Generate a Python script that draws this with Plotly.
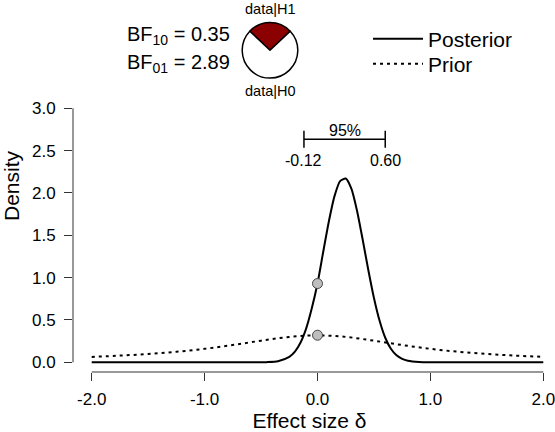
import plotly.graph_objects as go

# ---- data ----
post_x = [-2.0, -1.0, -0.6, -0.45, -0.35, -0.25, -0.2, -0.15, -0.1, -0.05, 0.0, 0.05, 0.1,
          0.15, 0.2, 0.25, 0.3, 0.35, 0.4, 0.45, 0.5, 0.55, 0.6, 0.65, 0.7, 0.75, 0.8,
          0.9, 1.0, 1.4, 2.0]
post_y = [0.0, 0.0, 0.0, 0.002, 0.012, 0.063, 0.125, 0.233, 0.40, 0.64, 0.93, 1.30, 1.66,
          1.96, 2.14, 2.17, 2.05, 1.79, 1.45, 1.09, 0.76, 0.49, 0.29, 0.16, 0.083, 0.04, 0.018,
          0.003, 0.0, 0.0, 0.0]
prior_x = [-2.0, -1.75, -1.5, -1.25, -1.0, -0.75, -0.5, -0.25, 0.0, 0.25, 0.5, 0.75, 1.0,
           1.25, 1.5, 1.75, 2.0]
prior_y = [0.064, 0.079, 0.098, 0.124, 0.159, 0.204, 0.255, 0.300, 0.318, 0.300, 0.255,
           0.204, 0.159, 0.124, 0.098, 0.079, 0.064]
point_x = [0.0, 0.0]
point_y = [0.93, 0.32]          # posterior and prior density at delta = 0
ci = [-0.12, 0.60]
ci_label = "95%"
bf10 = 0.35
bf01 = 2.89
x_ticks = [-2.0, -1.0, 0.0, 1.0, 2.0]
x_ticktext = ["-2.0", "-1.0", "0.0", "1.0", "2.0"]
y_ticks = [0.0, 0.5, 1.0, 1.5, 2.0, 2.5, 3.0]
y_ticktext = ["0.0", "0.5", "1.0", "1.5", "2.0", "2.5", "3.0"]

# ---- layout constants ----
W, H = 555, 432
ML, MR, MT, MB = 73, 9, 0, 60
PW, PH = W - ML - MR, H - MT - MB
FONT = "Liberation Sans, Arial, sans-serif"
AX = "#333333"
CI_Y = 2.634
CAP = 0.1


def px_x(p):
    return (p - ML) / PW


def px_y(p):
    return 1 - (p - MT) / PH


fig = go.Figure()

fig.add_trace(go.Scatter(x=post_x, y=post_y, mode="lines", name="Posterior", legend="legend",
                         line=dict(color="black", width=2, shape="spline", smoothing=0.6)))
fig.add_trace(go.Scatter(x=prior_x, y=prior_y, mode="lines", name="Prior", legend="legend2",
                         line=dict(color="black", width=2, dash="3px,4px", shape="spline")))
fig.add_trace(go.Scatter(x=point_x, y=point_y, mode="markers", showlegend=False,
                         marker=dict(size=10, color="#BEBEBE", line=dict(color="#444444", width=1))))
# credible interval bar
fig.add_trace(go.Scatter(
    x=[ci[0], ci[0], ci[0], ci[1], ci[1], ci[1]],
    y=[CI_Y - CAP, CI_Y + CAP, CI_Y, CI_Y, CI_Y + CAP, CI_Y - CAP],
    mode="lines", showlegend=False, line=dict(color="black", width=1.5)))

# pie (BF proportion)
p1 = bf10 / (bf10 + 1)
cx, cy, r = 270, 50.3, 27.8
fig.add_trace(go.Pie(values=[bf10, 1], sort=False, direction="clockwise",
                     rotation=-p1 * 360 / 2, textinfo="none", hoverinfo="skip",
                     showlegend=False,
                     marker=dict(colors=["#8B0000", "white"], line=dict(color="black", width=1.5)),
                     domain=dict(x=[px_x(cx - r), px_x(cx + r)], y=[px_y(cy + r), px_y(cy - r)])))

ann = [
    dict(x=(ci[0] + ci[1]) / 2, y=CI_Y, xref="x", yref="y", text=ci_label, showarrow=False,
         yanchor="middle", yshift=9, font=dict(size=16)),
    dict(x=ci[0], y=CI_Y, xref="x", yref="y", text=f"{ci[0]:.2f}", showarrow=False,
         yanchor="middle", yshift=-21, font=dict(size=16)),
    dict(x=ci[1], y=CI_Y, xref="x", yref="y", text=f"{ci[1]:.2f}", showarrow=False,
         yanchor="middle", yshift=-21, font=dict(size=16)),
    dict(x=px_x(232), y=px_y(35.4), xref="paper", yref="paper", xanchor="right",
         yanchor="middle", showarrow=False, text=f"BF<sub>10</sub> = {bf10:.2f}",
         font=dict(size=20)),
    dict(x=px_x(232), y=px_y(63.7), xref="paper", yref="paper", xanchor="right",
         yanchor="middle", showarrow=False, text=f"BF<sub>01</sub> = {bf01:.2f}",
         font=dict(size=20)),
    dict(x=px_x(cx), y=px_y(9.5), xref="paper", yref="paper", showarrow=False,
         xanchor="center", yanchor="middle", text="data|H1", font=dict(size=14.5)),
    dict(x=px_x(cx), y=px_y(90.5), xref="paper", yref="paper", showarrow=False,
         xanchor="center", yanchor="middle", text="data|H0", font=dict(size=14.5)),
]

shapes = [
    dict(type="line", xref="x", yref="paper", x0=x_ticks[0], x1=x_ticks[-1], y0=0, y1=0,
         line=dict(color=AX, width=1)),
    dict(type="line", xref="paper", yref="y", x0=0, x1=0, y0=y_ticks[0], y1=y_ticks[-1],
         line=dict(color=AX, width=1)),
]

y0px, scale_y = 362.3, 84.67
x0px, scale_x = 317.5, 112.9

leg_common = dict(xanchor="left", yanchor="middle", font=dict(size=21), itemwidth=50,
                  bgcolor="rgba(0,0,0,0)", borderwidth=0)

fig.update_layout(
    width=W, height=H,
    margin=dict(l=ML, r=MR, t=MT, b=MB, pad=0),
    paper_bgcolor="white", plot_bgcolor="white",
    font=dict(family=FONT, color="black", size=16),
    showlegend=True,
    legend=dict(x=px_x(368), y=px_y(39), **leg_common),
    legend2=dict(x=px_x(368), y=px_y(64), **leg_common),
    xaxis=dict(range=[(ML - x0px) / scale_x, (ML + PW - x0px) / scale_x],
               tickvals=x_ticks, ticktext=x_ticktext, ticks="outside", ticklen=8,
               tickcolor=AX, tickwidth=1, showgrid=False, zeroline=False, showline=False,
               ticklabelstandoff=4, ticklabeloverflow="allow", tickfont=dict(size=17),
               title=dict(text="Effect size δ", font=dict(size=21), standoff=3)),
    yaxis=dict(range=[(y0px - (MT + PH)) / scale_y, (y0px - MT) / scale_y],
               tickvals=y_ticks, ticktext=y_ticktext, ticks="outside", ticklen=8,
               tickcolor=AX, tickwidth=1, showgrid=False, zeroline=False, showline=False,
               ticklabelstandoff=5, tickfont=dict(size=17),
               title=dict(text="Density", font=dict(size=21), standoff=16)),
    annotations=ann,
    shapes=shapes,
)

fig.write_html("out.html", config={"displayModeBar": False},
               post_script="document.body.style.margin='0';")
